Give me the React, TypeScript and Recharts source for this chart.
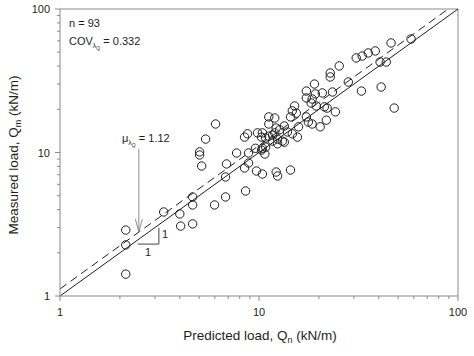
import React from "react";
import {
  ScatterChart,
  Scatter,
  XAxis,
  YAxis,
  ReferenceLine,
  Customized,
} from "recharts";

// Predicted load Qn (kN/m)
const predicted: number[] = [
  2.14, 2.14, 2.14, 3.32, 4.0, 4.04, 4.64, 4.64, 4.64, 5.98,
  6.79, 6.79, 8.56, 6.05, 5.39, 5.03, 5.03, 5.15, 6.87, 7.72,
  8.46, 8.76, 8.86, 8.86, 8.46, 9.71, 10.4, 12.2, 12.4, 14.4,
  9.6, 10.4, 10.8, 10.7, 9.83, 10.4, 10.3, 11.2, 12.0, 11.7,
  12.4, 12.4, 13.1, 13.4, 12.7, 13.4, 11.2, 12.0, 11.2, 14.7,
  15.6, 15.8, 14.4, 14.7, 15.1, 17.3, 17.7, 18.5, 20.3, 21.8,
  17.3, 17.3, 18.3, 19.4, 21.3, 22.0, 24.2, 19.0, 19.2, 23.4,
  22.8, 22.8, 25.3, 28.1, 32.7, 30.8, 33.0, 35.4, 38.4, 40.6,
  43.6, 41.1, 47.8, 46.1, 58.1, 10.8, 11.7, 10.3, 20.8, 18.5,
  13.9, 15.4, 12.2,
];

// Measured load Qm (kN/m)
const measured: number[] = [
  2.88, 2.27, 1.42, 3.85, 3.73, 3.07, 4.9, 4.31, 3.18, 4.31,
  6.75, 4.9, 5.39, 15.8, 12.4, 10.1, 9.61, 8.05, 8.32, 9.92,
  12.8, 13.5, 9.92, 8.45, 7.8, 7.43, 7.08, 7.31, 6.86, 7.55,
  10.7, 10.7, 10.9, 9.76, 13.7, 13.7, 12.8, 13.0, 13.7, 12.0,
  12.4, 11.5, 12.0, 11.8, 14.4, 15.3, 17.7, 17.4, 15.8, 13.5,
  12.8, 15.1, 17.7, 19.5, 21.1, 17.7, 16.3, 15.8, 15.1, 16.8,
  26.8, 24.0, 22.1, 21.1, 20.8, 20.4, 19.2, 30.0, 25.6, 26.4,
  35.8, 33.6, 40.1, 31.0, 26.8, 45.6, 47.0, 49.4, 51.0, 42.7,
  42.7, 28.6, 20.4, 58.0, 61.8, 12.6, 13.2, 10.4, 26.0, 23.6,
  13.9, 18.8, 14.8,
];

const xTicks: number[] = [1, 2, 3, 4, 5, 6, 7, 8, 9, 10, 20, 30, 40, 50, 60, 70, 80, 90, 100];
const yTicks: number[] = [1, 2, 3, 4, 5, 6, 7, 8, 9, 10, 20, 30, 40, 50, 60, 70, 80, 90, 100];
const majorTicks: number[] = [1, 10, 100];

const meanBias = 1.12;
const cov = 0.332;
const nCount = 93;

const data = predicted.map((x, i) => ({ x, y: measured[i] }));

const AXIS = "#8a8a8a";
const INK = "#1e1e1e";
const FONT = "'Liberation Sans', Arial, Helvetica, sans-serif";

const XTick = (props: any) => {
  const { x, y, payload } = props;
  const v = payload.value;
  const major = majorTicks.includes(v);
  return (
    <g>
      <line x1={x} x2={x} y1={y} y2={y + (major ? 5 : 3)} stroke={AXIS} strokeWidth={1} />
      {major && (
        <text x={x} y={y + 20} textAnchor="middle" fontSize={11} fill={INK} fontFamily={FONT}>
          {v}
        </text>
      )}
    </g>
  );
};

const YTick = (props: any) => {
  const { x, y, payload } = props;
  const v = payload.value;
  const major = majorTicks.includes(v);
  return (
    <g>
      <line x1={x} x2={x - (major ? 5 : 3)} y1={y} y2={y} stroke={AXIS} strokeWidth={1} />
      {major && (
        <text x={x - 10} y={y + 4} textAnchor="end" fontSize={11} fill={INK} fontFamily={FONT}>
          {v}
        </text>
      )}
    </g>
  );
};

const Arrow = (p: any) => {
  const { x1, y1, x2, y2 } = p;
  return (
    <g stroke="#8c8c8c" strokeWidth={1} fill="none">
      <line x1={x1} y1={y1} x2={x2} y2={y2} />
      <polyline points={`${x2 - 3.5},${y2 - 13} ${x2},${y2} ${x2 + 3.5},${y2 - 13}`} />
    </g>
  );
};

const T = (p: any) => <text fontFamily={FONT} fill={INK} stroke="none" {...p} />;

const Annotations = () => (
  <g>
    <T x={69} y={27} fontSize={11}>
      {`n = ${nCount}`}
    </T>
    <T x={69} y={45} fontSize={11}>
      COV
      <tspan fontSize={7} dy={3}>λ</tspan>
      <tspan fontSize={5} dy={2}>Q</tspan>
      <tspan fontSize={11} dy={-5}>{` = ${cov}`}</tspan>
    </T>
    <T x={122} y={142} fontSize={11}>
      μ
      <tspan fontSize={7} dy={3}>λ</tspan>
      <tspan fontSize={5} dy={2}>Q</tspan>
      <tspan fontSize={11} dy={-5}>{` = ${meanBias.toFixed(2)}`}</tspan>
    </T>
    <T x={162} y={238} fontSize={11}>1</T>
    <T x={148} y={256} fontSize={11} textAnchor="middle">1</T>
    <T x={260} y={340} fontSize={13.5} textAnchor="middle">
      Predicted load, Q
      <tspan fontSize={9} dy={3}>n</tspan>
      <tspan fontSize={13.5} dy={-3}> (kN/m)</tspan>
    </T>
    <T x={18} y={155} fontSize={13.5} textAnchor="middle" transform="rotate(-90, 18, 155)">
      Measured load, Q
      <tspan fontSize={9} dy={3}>m</tspan>
      <tspan fontSize={13.5} dy={-3}> (kN/m)</tspan>
    </T>
  </g>
);

const Circle = (p: any) => (
  <circle cx={p.cx} cy={p.cy} r={4.2} fill="none" stroke={INK} strokeWidth={1} />
);

export default function App() {
  return (
    <div style={{ position: "absolute", left: 0, top: 0, width: 474, height: 356, background: "#fff" }}>
      <ScatterChart
        width={474}
        height={356}
        margin={{ top: 9, right: 16, bottom: 0, left: 0 }}
      >
        <XAxis
          dataKey="x"
          type="number"
          scale="log"
          domain={[1, 100]}
          allowDataOverflow
          ticks={xTicks}
          interval={0}
          tickSize={0}
          tickMargin={0}
          tick={<XTick />}
          axisLine={{ stroke: AXIS }}
          tickLine={false}
          height={60}
        />
        <YAxis
          dataKey="y"
          type="number"
          scale="log"
          domain={[1, 100]}
          allowDataOverflow
          ticks={yTicks}
          interval={0}
          tickSize={0}
          tickMargin={0}
          tick={<YTick />}
          axisLine={{ stroke: AXIS }}
          tickLine={false}
          width={60}
        />
        <ReferenceLine y={100} stroke={AXIS} strokeWidth={1} />
        <ReferenceLine x={100} stroke={AXIS} strokeWidth={1} />
        <ReferenceLine
          segment={[{ x: 1, y: 1 }, { x: 100, y: 100 }]}
          stroke={INK}
          strokeWidth={1}
        />
        <ReferenceLine
          segment={[{ x: 1, y: meanBias }, { x: 100 / meanBias, y: 100 }]}
          stroke={INK}
          strokeWidth={1}
          strokeDasharray="8 5"
        />
        <ReferenceLine
          segment={[{ x: 2.49, y: 10.6 }, { x: 2.49, y: 2.49 * meanBias }]}
          shape={Arrow}
        />
        <ReferenceLine
          segment={[{ x: 2.46, y: 2.3 }, { x: 3.14, y: 2.3 }]}
          stroke="#444"
          strokeWidth={1}
        />
        <ReferenceLine
          segment={[{ x: 3.14, y: 2.3 }, { x: 3.14, y: 2.98 }]}
          stroke="#444"
          strokeWidth={1}
        />
        <Scatter data={data} shape={Circle} isAnimationActive={false} />
        <Customized component={Annotations} />
      </ScatterChart>
    </div>
  );
}
